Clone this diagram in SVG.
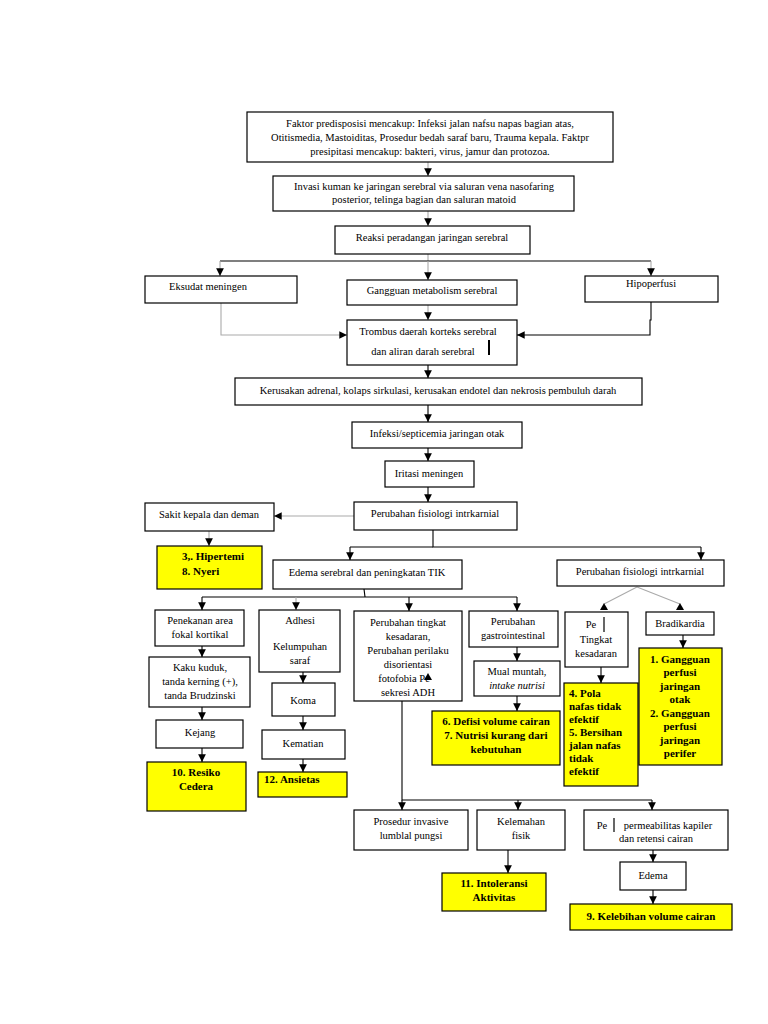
<svg xmlns="http://www.w3.org/2000/svg" width="768" height="1024" viewBox="0 0 768 1024">
<style>
.b{fill:#fff;stroke:#000;stroke-width:1.2}
.y{fill:#ffff00;stroke:#000;stroke-width:1.2}
text{font-family:"Liberation Serif",serif;font-size:10.5px;fill:#000;text-anchor:middle}
.k{font-weight:bold;font-size:11px}
.l{text-anchor:start}
.c line,.c polyline{stroke:#000;stroke-width:1.1;fill:none}
.g{stroke:#aaa!important}
</style>
<defs>
<marker id="a" viewBox="0 0 10 10" refX="10" refY="5" markerWidth="7" markerHeight="7" orient="auto"><path d="M0,0L10,5L0,10z" fill="#000"/></marker>
</defs>
<rect width="768" height="1024" fill="#fff"/>
<g class="c" id="connectors">
<line class="g" x1="428" y1="162" x2="428" y2="176" marker-end="url(#a)"/>
<line class="g" x1="428" y1="211" x2="428" y2="226" marker-end="url(#a)"/>
<line class="g" x1="428" y1="254" x2="428" y2="261"/>
<line x1="220" y1="261" x2="651" y2="261"/>
<line class="g" x1="220" y1="261" x2="220" y2="276" marker-end="url(#a)"/>
<line class="g" x1="428" y1="261" x2="428" y2="280" marker-end="url(#a)"/>
<line class="g" x1="651" y1="261" x2="651" y2="276" marker-end="url(#a)"/>
<line class="g" x1="428" y1="305" x2="428" y2="320" marker-end="url(#a)"/>
<polyline class="g" points="221,303 221,335 347,335" marker-end="url(#a)"/>
<polyline points="651,302 651,320 650,320 650,335 517,335" marker-end="url(#a)"/>
<line x1="428" y1="365" x2="428" y2="378" marker-end="url(#a)"/>
<line x1="428" y1="405" x2="428" y2="422" marker-end="url(#a)"/>
<line x1="428" y1="448" x2="428" y2="461" marker-end="url(#a)"/>
<line x1="428" y1="487" x2="428" y2="502" marker-end="url(#a)"/>
<line class="g" x1="354" y1="516" x2="274" y2="516" marker-end="url(#a)"/>
<line class="g" x1="209" y1="531" x2="209" y2="546" marker-end="url(#a)"/>
<polyline points="433,530 433,547 701,547"/>
<line x1="350" y1="547" x2="433" y2="547"/>
<line x1="350" y1="547" x2="350" y2="560" marker-end="url(#a)"/>
<line x1="701" y1="547" x2="701" y2="560" marker-end="url(#a)"/>
<line x1="364" y1="589" x2="365" y2="597"/>
<line x1="202" y1="597" x2="517" y2="597"/>
<line x1="202" y1="597" x2="202" y2="610" marker-end="url(#a)"/>
<line class="g" x1="296" y1="597" x2="296" y2="610" marker-end="url(#a)"/>
<line x1="409" y1="597" x2="409" y2="611" marker-end="url(#a)"/>
<line x1="517" y1="597" x2="517" y2="611" marker-end="url(#a)"/>
<line x1="202" y1="646" x2="202" y2="657" marker-end="url(#a)"/>
<line x1="202" y1="707" x2="202" y2="720" marker-end="url(#a)"/>
<line x1="202" y1="748" x2="202" y2="762" marker-end="url(#a)"/>
<line x1="299" y1="631" x2="299" y2="642" marker-end="url(#a)"/>
<line x1="303" y1="672" x2="303" y2="683" marker-end="url(#a)"/>
<line x1="303" y1="716" x2="303" y2="730" marker-end="url(#a)"/>
<line x1="303" y1="759" x2="303" y2="772" marker-end="url(#a)"/>
<line x1="517" y1="647" x2="517" y2="661" marker-end="url(#a)"/>
<line x1="517" y1="696" x2="517" y2="711" marker-end="url(#a)"/>
<line class="g" x1="637" y1="587" x2="604" y2="604"/>
<line class="g" x1="637" y1="587" x2="680" y2="604"/>
<line x1="601" y1="667" x2="601" y2="683" marker-end="url(#a)"/>
<line x1="683" y1="635" x2="683" y2="648" marker-end="url(#a)"/>
<polyline points="402,701 402,800 652,800"/>
<line x1="402" y1="800" x2="402" y2="810" marker-end="url(#a)"/>
<line x1="518" y1="800" x2="518" y2="810" marker-end="url(#a)"/>
<line x1="652" y1="800" x2="652" y2="810" marker-end="url(#a)"/>
<line x1="508" y1="850" x2="508" y2="873" marker-end="url(#a)"/>
<line x1="653" y1="850" x2="653" y2="862" marker-end="url(#a)"/>
<line x1="653" y1="890" x2="653" y2="904" marker-end="url(#a)"/>
<polygon points="604,603 600,610 608,610" fill="#000"/>
<polygon points="680,603 676,610 684,610" fill="#000"/>
</g>
<g id="n1"><rect class="b" x="247" y="112" width="366" height="50"/><text x="430" y="127">Faktor predisposisi mencakup: Infeksi jalan nafsu napas bagian atas,</text><text x="430" y="141">Otitismedia, Mastoiditas, Prosedur bedah saraf baru, Trauma kepala. Faktpr</text><text x="430" y="155">presipitasi mencakup: bakteri, virus, jamur dan protozoa.</text></g>
<g id="n2"><rect class="b" x="273" y="176" width="301" height="35"/><text x="424" y="190">Invasi kuman ke jaringan serebral via saluran vena nasofaring</text><text x="424" y="203">posterior, telinga bagian dan saluran matoid</text></g>
<g id="n3"><rect class="b" x="335" y="226" width="195" height="28"/><text x="432" y="241">Reaksi peradangan jaringan serebral</text></g>
<g id="n4"><rect class="b" x="145" y="276" width="152" height="27"/><text x="208" y="290">Eksudat meningen</text></g>
<g id="n5"><rect class="b" x="347" y="280" width="170" height="25"/><text x="432" y="294">Gangguan metabolism serebral</text></g>
<g id="n6"><rect class="b" x="585" y="276" width="133" height="26"/><text x="651" y="287">Hipoperfusi</text></g>
<g id="n7"><rect class="b" x="347" y="320" width="170" height="45"/><text x="428" y="335">Trombus daerah korteks serebral</text><text x="423" y="355">dan aliran darah serebral</text><line x1="489" y1="340" x2="489" y2="355" stroke="#000" stroke-width="2"/></g>
<g id="n8"><rect class="b" x="235" y="378" width="407" height="27"/><text x="438" y="394">Kerusakan adrenal, kolaps sirkulasi, kerusakan endotel dan nekrosis pembuluh darah</text></g>
<g id="n9"><rect class="b" x="352" y="422" width="170" height="26"/><text x="437" y="437">Infeksi/septicemia jaringan otak</text></g>
<g id="n10"><rect class="b" x="385" y="461" width="89" height="26"/><text x="429" y="477">Iritasi meningen</text></g>
<g id="n11"><rect class="b" x="354" y="502" width="163" height="28"/><text x="435" y="517">Perubahan fisiologi intrkarnial</text></g>
<g id="n12"><rect class="b" x="145" y="503" width="129" height="28"/><text x="209" y="518">Sakit kepala dan deman</text></g>
<g id="n13"><rect class="y" x="157" y="546" width="105" height="43"/><text class="k l" x="182" y="560">3,. Hipertemi</text><text class="k l" x="182" y="575">8.  Nyeri</text></g>
<g id="n14"><rect class="b" x="273" y="560" width="189" height="29"/><text x="367" y="576">Edema serebral dan peningkatan TIK</text></g>
<g id="n15"><rect class="b" x="557" y="560" width="167" height="26"/><text x="640" y="575">Perubahan fisiologi intrkarnial</text></g>
<g id="n16"><rect class="b" x="155" y="610" width="89" height="36"/><text x="200" y="624">Penekanan area</text><text x="200" y="638">fokal kortikal</text></g>
<g id="n17"><rect class="b" x="259" y="610" width="81" height="62"/><text x="300" y="624">Adhesi</text><text x="300" y="650">Kelumpuhan</text><text x="300" y="664">saraf</text></g>
<g id="n18"><rect class="b" x="354" y="611" width="108" height="90"/><text x="408" y="626">Perubahan tingkat</text><text x="408" y="640">kesadaran,</text><text x="408" y="654">Perubahan perilaku</text><text x="408" y="668">disorientasi</text><text x="404" y="682">fotofobia Pe</text><text x="408" y="696">sekresi ADH</text><polygon points="428,673 424,680 432,680" fill="#000"/></g>
<g id="n19"><rect class="b" x="469" y="611" width="89" height="36"/><text x="513" y="625">Perubahan</text><text x="513" y="639">gastrointestinal</text></g>
<g id="n20"><rect class="b" x="474" y="661" width="86" height="35"/><text x="517" y="675">Mual muntah,</text><text x="517" y="689" font-style="italic">intake nutrisi</text></g>
<g id="n21"><rect class="y" x="432" y="711" width="128" height="54"/><text class="k" x="496" y="725">6. Defisi volume cairan</text><text class="k" x="496" y="739">7. Nutrisi kurang dari</text><text class="k" x="496" y="753">kebutuhan</text></g>
<g id="n22"><rect class="b" x="149" y="657" width="101" height="50"/><text x="200" y="671">Kaku kuduk,</text><text x="200" y="685">tanda kerning (+),</text><text x="200" y="699">tanda Brudzinski</text></g>
<g id="n23"><rect class="b" x="156" y="720" width="87" height="28"/><text x="200" y="736">Kejang</text></g>
<g id="n24"><rect class="y" x="147" y="762" width="99" height="49"/><text class="k" x="196" y="776">10. Resiko</text><text class="k" x="196" y="790">Cedera</text></g>
<g id="n25"><rect class="b" x="272" y="683" width="63" height="33"/><text x="303" y="704">Koma</text></g>
<g id="n26"><rect class="b" x="262" y="730" width="83" height="29"/><text x="303" y="747">Kematian</text></g>
<g id="n27"><rect class="y" x="258" y="772" width="89" height="25"/><text class="k l" x="264" y="783">12. Ansietas</text></g>
<g id="n28"><rect class="b" x="565" y="612" width="63" height="55"/><text x="591" y="628">Pe</text><line x1="604" y1="617" x2="604" y2="632" stroke="#000" stroke-width="1.2"/><text x="596" y="643">Tingkat</text><text x="596" y="657">kesadaran</text></g>
<g id="n29"><rect class="b" x="646" y="612" width="68" height="23"/><text x="680" y="627">Bradikardia</text></g>
<g id="n30"><rect class="y" x="564" y="683" width="74" height="103"/><text class="k l" x="569" y="697">4. Pola</text><text class="k l" x="569" y="710">nafas tidak</text><text class="k l" x="569" y="723">efektif</text><text class="k l" x="569" y="736">5. Bersihan</text><text class="k l" x="569" y="749">jalan nafas</text><text class="k l" x="569" y="762">tidak</text><text class="k l" x="569" y="775">efektif</text></g>
<g id="n31"><rect class="y" x="639" y="648" width="83" height="117"/><text class="k" x="680" y="663">1. Gangguan</text><text class="k" x="680" y="676">perfusi</text><text class="k" x="680" y="690">jaringan</text><text class="k" x="680" y="703">otak</text><text class="k" x="680" y="717">2. Gangguan</text><text class="k" x="680" y="730">perfusi</text><text class="k" x="680" y="744">jaringan</text><text class="k" x="680" y="757">perifer</text></g>
<g id="n32"><rect class="b" x="354" y="810" width="114" height="40"/><text x="411" y="825">Prosedur invasive</text><text x="411" y="839">lumblal pungsi</text></g>
<g id="n33"><rect class="b" x="477" y="810" width="88" height="40"/><text x="521" y="825">Kelemahan</text><text x="521" y="839">fisik</text></g>
<g id="n34"><rect class="b" x="584" y="810" width="144" height="40"/><text x="602" y="829">Pe</text><line x1="614" y1="818" x2="614" y2="832" stroke="#000" stroke-width="1.2"/><text x="668" y="829">permeabilitas kapiler</text><text x="656" y="842">dan retensi cairan</text></g>
<g id="n35"><rect class="b" x="620" y="862" width="66" height="28"/><text x="653" y="879">Edema</text></g>
<g id="n36"><rect class="y" x="442" y="873" width="104" height="38"/><text class="k" x="494" y="887">11. Intoleransi</text><text class="k" x="494" y="901">Aktivitas</text></g>
<g id="n37"><rect class="y" x="570" y="904" width="162" height="26"/><text class="k" x="651" y="920">9. Kelebihan volume cairan</text></g>
</svg>
